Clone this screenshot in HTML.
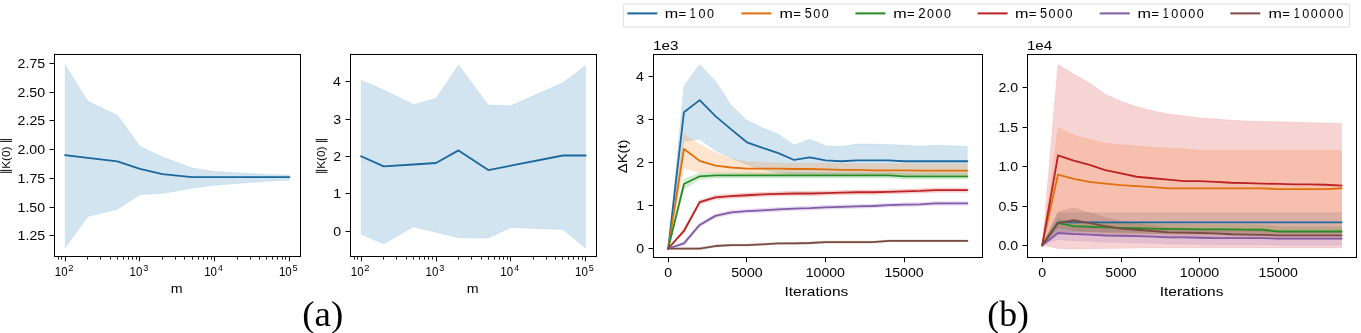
<!DOCTYPE html>
<html><head><meta charset="utf-8"><title>figure</title>
<style>html,body{margin:0;padding:0;background:#fff;width:1361px;height:333px;overflow:hidden}svg{display:block;will-change:transform}text{fill:#000}</style>
</head><body>
<svg width="1361" height="333" viewBox="0 0 1361 333"><path d="M65.25,65.16 L87.73,101.36 L117.44,115.28 L139.92,146.34 L162.4,156.96 L192.11,168.03 L214.59,171.57 L266.78,174.42 L289.26,174.99 L289.26,180.36 L266.78,181.27 L214.59,185.27 L192.11,188.35 L162.4,193.6 L139.92,194.52 L117.44,209.25 L87.73,216.44 L65.25,247.84Z" fill="#1f77b4" fill-opacity="0.2" stroke="#1f77b4" stroke-opacity="0.1" stroke-width="1"/>
<polyline points="65.25,155.24 87.73,157.87 117.44,161.41 139.92,168.83 162.4,174.2 192.11,177.16 214.59,177.16 266.78,177.16 289.26,177.16" fill="none" stroke="#1b689e" stroke-width="1.8" stroke-linejoin="round" stroke-linecap="square"/>
<rect x="54.5" y="54.5" width="246" height="202" fill="none" stroke="#000" stroke-width="1"/>
<line x1="49.5" y1="63.5" x2="54.5" y2="63.5" stroke="#000" stroke-width="1"/>
<text x="17.61" y="68.25" font-size="12.9" font-family='"Liberation Sans", sans-serif' textLength="27.49" lengthAdjust="spacingAndGlyphs">2.75</text>
<line x1="49.5" y1="92.5" x2="54.5" y2="92.5" stroke="#000" stroke-width="1"/>
<text x="17.56" y="97.25" font-size="12.9" font-family='"Liberation Sans", sans-serif' textLength="27.49" lengthAdjust="spacingAndGlyphs">2.50</text>
<line x1="49.5" y1="120.5" x2="54.5" y2="120.5" stroke="#000" stroke-width="1"/>
<text x="17.61" y="125.25" font-size="12.9" font-family='"Liberation Sans", sans-serif' textLength="27.49" lengthAdjust="spacingAndGlyphs">2.25</text>
<line x1="49.5" y1="149.5" x2="54.5" y2="149.5" stroke="#000" stroke-width="1"/>
<text x="17.56" y="154.25" font-size="12.9" font-family='"Liberation Sans", sans-serif' textLength="27.49" lengthAdjust="spacingAndGlyphs">2.00</text>
<line x1="49.5" y1="178.5" x2="54.5" y2="178.5" stroke="#000" stroke-width="1"/>
<text x="17.61" y="183.25" font-size="12.9" font-family='"Liberation Sans", sans-serif' textLength="27.49" lengthAdjust="spacingAndGlyphs">1.75</text>
<line x1="49.5" y1="207.5" x2="54.5" y2="207.5" stroke="#000" stroke-width="1"/>
<text x="17.56" y="212.25" font-size="12.9" font-family='"Liberation Sans", sans-serif' textLength="27.49" lengthAdjust="spacingAndGlyphs">1.50</text>
<line x1="49.5" y1="235.5" x2="54.5" y2="235.5" stroke="#000" stroke-width="1"/>
<text x="17.61" y="240.25" font-size="12.9" font-family='"Liberation Sans", sans-serif' textLength="27.49" lengthAdjust="spacingAndGlyphs">1.25</text>
<line x1="65.5" y1="256.5" x2="65.5" y2="261.3" stroke="#000" stroke-width="1"/>
<text x="54.87" y="275.88" font-size="12.29" font-family='"Liberation Sans", sans-serif' textLength="12.83" lengthAdjust="spacingAndGlyphs">10</text>
<text x="68.38" y="271.3" font-size="8.31" font-family='"Liberation Sans", sans-serif' textLength="5.24" lengthAdjust="spacingAndGlyphs">2</text>
<line x1="139.5" y1="256.5" x2="139.5" y2="261.3" stroke="#000" stroke-width="1"/>
<text x="129.54" y="275.88" font-size="12.29" font-family='"Liberation Sans", sans-serif' textLength="12.83" lengthAdjust="spacingAndGlyphs">10</text>
<text x="143.18" y="271.22" font-size="8.19" font-family='"Liberation Sans", sans-serif' textLength="5.05" lengthAdjust="spacingAndGlyphs">3</text>
<line x1="214.5" y1="256.5" x2="214.5" y2="261.3" stroke="#000" stroke-width="1"/>
<text x="204.21" y="275.88" font-size="12.29" font-family='"Liberation Sans", sans-serif' textLength="12.83" lengthAdjust="spacingAndGlyphs">10</text>
<text x="217.99" y="271.3" font-size="8.43" font-family='"Liberation Sans", sans-serif' textLength="4.74" lengthAdjust="spacingAndGlyphs">4</text>
<line x1="289.5" y1="256.5" x2="289.5" y2="261.3" stroke="#000" stroke-width="1"/>
<text x="278.88" y="275.88" font-size="12.29" font-family='"Liberation Sans", sans-serif' textLength="12.83" lengthAdjust="spacingAndGlyphs">10</text>
<text x="292.5" y="271.22" font-size="8.31" font-family='"Liberation Sans", sans-serif' textLength="5.05" lengthAdjust="spacingAndGlyphs">5</text>
<line x1="58.5" y1="256.5" x2="58.5" y2="259.7" stroke="#000" stroke-width="0.85"/>
<line x1="61.5" y1="256.5" x2="61.5" y2="259.7" stroke="#000" stroke-width="0.85"/>
<line x1="87.5" y1="256.5" x2="87.5" y2="259.7" stroke="#000" stroke-width="0.85"/>
<line x1="100.5" y1="256.5" x2="100.5" y2="259.7" stroke="#000" stroke-width="0.85"/>
<line x1="110.5" y1="256.5" x2="110.5" y2="259.7" stroke="#000" stroke-width="0.85"/>
<line x1="117.5" y1="256.5" x2="117.5" y2="259.7" stroke="#000" stroke-width="0.85"/>
<line x1="123.5" y1="256.5" x2="123.5" y2="259.7" stroke="#000" stroke-width="0.85"/>
<line x1="128.5" y1="256.5" x2="128.5" y2="259.7" stroke="#000" stroke-width="0.85"/>
<line x1="132.5" y1="256.5" x2="132.5" y2="259.7" stroke="#000" stroke-width="0.85"/>
<line x1="136.5" y1="256.5" x2="136.5" y2="259.7" stroke="#000" stroke-width="0.85"/>
<line x1="162.5" y1="256.5" x2="162.5" y2="259.7" stroke="#000" stroke-width="0.85"/>
<line x1="175.5" y1="256.5" x2="175.5" y2="259.7" stroke="#000" stroke-width="0.85"/>
<line x1="184.5" y1="256.5" x2="184.5" y2="259.7" stroke="#000" stroke-width="0.85"/>
<line x1="192.5" y1="256.5" x2="192.5" y2="259.7" stroke="#000" stroke-width="0.85"/>
<line x1="198.5" y1="256.5" x2="198.5" y2="259.7" stroke="#000" stroke-width="0.85"/>
<line x1="203.5" y1="256.5" x2="203.5" y2="259.7" stroke="#000" stroke-width="0.85"/>
<line x1="207.5" y1="256.5" x2="207.5" y2="259.7" stroke="#000" stroke-width="0.85"/>
<line x1="211.5" y1="256.5" x2="211.5" y2="259.7" stroke="#000" stroke-width="0.85"/>
<line x1="237.5" y1="256.5" x2="237.5" y2="259.7" stroke="#000" stroke-width="0.85"/>
<line x1="250.5" y1="256.5" x2="250.5" y2="259.7" stroke="#000" stroke-width="0.85"/>
<line x1="259.5" y1="256.5" x2="259.5" y2="259.7" stroke="#000" stroke-width="0.85"/>
<line x1="266.5" y1="256.5" x2="266.5" y2="259.7" stroke="#000" stroke-width="0.85"/>
<line x1="272.5" y1="256.5" x2="272.5" y2="259.7" stroke="#000" stroke-width="0.85"/>
<line x1="277.5" y1="256.5" x2="277.5" y2="259.7" stroke="#000" stroke-width="0.85"/>
<line x1="282.5" y1="256.5" x2="282.5" y2="259.7" stroke="#000" stroke-width="0.85"/>
<line x1="285.5" y1="256.5" x2="285.5" y2="259.7" stroke="#000" stroke-width="0.85"/>
<text x="170.66" y="292.8" font-size="13.01" font-family='"Liberation Sans", sans-serif' textLength="11.88" lengthAdjust="spacingAndGlyphs">m</text>
<line x1="0.2" y1="139.6" x2="12" y2="139.6" stroke="#000" stroke-width="0.95"/>
<line x1="0.2" y1="141.4" x2="12" y2="141.4" stroke="#000" stroke-width="0.95"/>
<line x1="0.2" y1="170.4" x2="12" y2="170.4" stroke="#000" stroke-width="0.95"/>
<line x1="0.2" y1="172.3" x2="12" y2="172.3" stroke="#000" stroke-width="0.95"/>
<text x="0" y="0" font-size="10.84" font-family='"Liberation Sans", sans-serif' textLength="22.3" lengthAdjust="spacingAndGlyphs" transform="translate(9.66,168.77) rotate(-90)">K(0)</text>
<path d="M361.25,80.13 L383.75,89.98 L413.5,104.39 L436,98.4 L458.5,65.12 L488.25,104.95 L510.75,105.81 L563,82.86 L585.5,65.42 L585.5,247.97 L563,229.4 L510.75,227.49 L488.25,238.09 L458.5,237.72 L436,232.25 L413.5,226.78 L383.75,243.86 L361.25,234.2Z" fill="#1f77b4" fill-opacity="0.2" stroke="#1f77b4" stroke-opacity="0.1" stroke-width="1"/>
<polyline points="361.25,156.25 383.75,166.35 413.5,164.48 436,162.98 458.5,150.4 488.25,170.1 510.75,165.72 563,155.5 585.5,155.5" fill="none" stroke="#1b689e" stroke-width="1.8" stroke-linejoin="round" stroke-linecap="square"/>
<rect x="350.5" y="54.5" width="246" height="202" fill="none" stroke="#000" stroke-width="1"/>
<line x1="345.5" y1="81.5" x2="350.5" y2="81.5" stroke="#000" stroke-width="1"/>
<text x="333.06" y="86.25" font-size="12.9" font-family='"Liberation Sans", sans-serif' textLength="7.86" lengthAdjust="spacingAndGlyphs">4</text>
<line x1="345.5" y1="119.5" x2="350.5" y2="119.5" stroke="#000" stroke-width="1"/>
<text x="333.27" y="124.25" font-size="12.9" font-family='"Liberation Sans", sans-serif' textLength="7.86" lengthAdjust="spacingAndGlyphs">3</text>
<line x1="345.5" y1="156.5" x2="350.5" y2="156.5" stroke="#000" stroke-width="1"/>
<text x="333.35" y="161.25" font-size="12.9" font-family='"Liberation Sans", sans-serif' textLength="7.86" lengthAdjust="spacingAndGlyphs">2</text>
<line x1="345.5" y1="193.5" x2="350.5" y2="193.5" stroke="#000" stroke-width="1"/>
<text x="333.34" y="198.25" font-size="12.9" font-family='"Liberation Sans", sans-serif' textLength="7.86" lengthAdjust="spacingAndGlyphs">1</text>
<line x1="345.5" y1="231.5" x2="350.5" y2="231.5" stroke="#000" stroke-width="1"/>
<text x="333.2" y="236.25" font-size="12.9" font-family='"Liberation Sans", sans-serif' textLength="7.86" lengthAdjust="spacingAndGlyphs">0</text>
<line x1="361.5" y1="256.5" x2="361.5" y2="261.3" stroke="#000" stroke-width="1"/>
<text x="350.87" y="275.88" font-size="12.29" font-family='"Liberation Sans", sans-serif' textLength="12.83" lengthAdjust="spacingAndGlyphs">10</text>
<text x="364.38" y="271.3" font-size="8.31" font-family='"Liberation Sans", sans-serif' textLength="5.24" lengthAdjust="spacingAndGlyphs">2</text>
<line x1="436.5" y1="256.5" x2="436.5" y2="261.3" stroke="#000" stroke-width="1"/>
<text x="425.62" y="275.88" font-size="12.29" font-family='"Liberation Sans", sans-serif' textLength="12.83" lengthAdjust="spacingAndGlyphs">10</text>
<text x="439.26" y="271.22" font-size="8.19" font-family='"Liberation Sans", sans-serif' textLength="5.05" lengthAdjust="spacingAndGlyphs">3</text>
<line x1="510.5" y1="256.5" x2="510.5" y2="261.3" stroke="#000" stroke-width="1"/>
<text x="500.37" y="275.88" font-size="12.29" font-family='"Liberation Sans", sans-serif' textLength="12.83" lengthAdjust="spacingAndGlyphs">10</text>
<text x="514.15" y="271.3" font-size="8.43" font-family='"Liberation Sans", sans-serif' textLength="4.74" lengthAdjust="spacingAndGlyphs">4</text>
<line x1="585.5" y1="256.5" x2="585.5" y2="261.3" stroke="#000" stroke-width="1"/>
<text x="575.12" y="275.88" font-size="12.29" font-family='"Liberation Sans", sans-serif' textLength="12.83" lengthAdjust="spacingAndGlyphs">10</text>
<text x="588.74" y="271.22" font-size="8.31" font-family='"Liberation Sans", sans-serif' textLength="5.05" lengthAdjust="spacingAndGlyphs">5</text>
<line x1="354.5" y1="256.5" x2="354.5" y2="259.7" stroke="#000" stroke-width="0.85"/>
<line x1="357.5" y1="256.5" x2="357.5" y2="259.7" stroke="#000" stroke-width="0.85"/>
<line x1="383.5" y1="256.5" x2="383.5" y2="259.7" stroke="#000" stroke-width="0.85"/>
<line x1="396.5" y1="256.5" x2="396.5" y2="259.7" stroke="#000" stroke-width="0.85"/>
<line x1="406.5" y1="256.5" x2="406.5" y2="259.7" stroke="#000" stroke-width="0.85"/>
<line x1="413.5" y1="256.5" x2="413.5" y2="259.7" stroke="#000" stroke-width="0.85"/>
<line x1="419.5" y1="256.5" x2="419.5" y2="259.7" stroke="#000" stroke-width="0.85"/>
<line x1="424.5" y1="256.5" x2="424.5" y2="259.7" stroke="#000" stroke-width="0.85"/>
<line x1="428.5" y1="256.5" x2="428.5" y2="259.7" stroke="#000" stroke-width="0.85"/>
<line x1="432.5" y1="256.5" x2="432.5" y2="259.7" stroke="#000" stroke-width="0.85"/>
<line x1="458.5" y1="256.5" x2="458.5" y2="259.7" stroke="#000" stroke-width="0.85"/>
<line x1="471.5" y1="256.5" x2="471.5" y2="259.7" stroke="#000" stroke-width="0.85"/>
<line x1="481.5" y1="256.5" x2="481.5" y2="259.7" stroke="#000" stroke-width="0.85"/>
<line x1="488.5" y1="256.5" x2="488.5" y2="259.7" stroke="#000" stroke-width="0.85"/>
<line x1="494.5" y1="256.5" x2="494.5" y2="259.7" stroke="#000" stroke-width="0.85"/>
<line x1="499.5" y1="256.5" x2="499.5" y2="259.7" stroke="#000" stroke-width="0.85"/>
<line x1="503.5" y1="256.5" x2="503.5" y2="259.7" stroke="#000" stroke-width="0.85"/>
<line x1="507.5" y1="256.5" x2="507.5" y2="259.7" stroke="#000" stroke-width="0.85"/>
<line x1="533.5" y1="256.5" x2="533.5" y2="259.7" stroke="#000" stroke-width="0.85"/>
<line x1="546.5" y1="256.5" x2="546.5" y2="259.7" stroke="#000" stroke-width="0.85"/>
<line x1="555.5" y1="256.5" x2="555.5" y2="259.7" stroke="#000" stroke-width="0.85"/>
<line x1="562.5" y1="256.5" x2="562.5" y2="259.7" stroke="#000" stroke-width="0.85"/>
<line x1="568.5" y1="256.5" x2="568.5" y2="259.7" stroke="#000" stroke-width="0.85"/>
<line x1="573.5" y1="256.5" x2="573.5" y2="259.7" stroke="#000" stroke-width="0.85"/>
<line x1="578.5" y1="256.5" x2="578.5" y2="259.7" stroke="#000" stroke-width="0.85"/>
<line x1="582.5" y1="256.5" x2="582.5" y2="259.7" stroke="#000" stroke-width="0.85"/>
<text x="466.66" y="292.8" font-size="13.01" font-family='"Liberation Sans", sans-serif' textLength="11.88" lengthAdjust="spacingAndGlyphs">m</text>
<line x1="315.7" y1="139.6" x2="327.5" y2="139.6" stroke="#000" stroke-width="0.95"/>
<line x1="315.7" y1="141.4" x2="327.5" y2="141.4" stroke="#000" stroke-width="0.95"/>
<line x1="315.7" y1="170.4" x2="327.5" y2="170.4" stroke="#000" stroke-width="0.95"/>
<line x1="315.7" y1="172.3" x2="327.5" y2="172.3" stroke="#000" stroke-width="0.95"/>
<text x="0" y="0" font-size="10.84" font-family='"Liberation Sans", sans-serif' textLength="22.3" lengthAdjust="spacingAndGlyphs" transform="translate(325.16,168.77) rotate(-90)">K(0)</text>
<clipPath id="c3"><rect x="653.5" y="54.5" width="329" height="203"/></clipPath>
<path d="M668.2,248.6 L683.94,85.95 L699.68,64.43 L715.42,81.21 L731.16,105.31 L746.9,120.37 L762.64,128.12 L778.38,134.14 L794.12,144.9 L809.86,139.3 L825.6,145.76 L841.34,146.62 L857.08,144.04 L872.82,144.04 L888.56,144.47 L904.3,145.33 L920.04,146.19 L935.78,145.33 L951.52,145.76 L967.26,146.62 L967.26,174.16 L951.52,174.16 L935.78,174.16 L920.04,174.16 L904.3,174.16 L888.56,174.16 L872.82,174.16 L857.08,174.16 L841.34,174.16 L825.6,173.73 L809.86,173.73 L794.12,173.73 L778.38,172.87 L762.64,169.42 L746.9,164.69 L731.16,158.24 L715.42,150.49 L699.68,139.3 L683.94,141.02 L668.2,248.6Z" fill="#1f77b4" fill-opacity="0.2" stroke="#1f77b4" stroke-opacity="0.1" stroke-width="1" clip-path="url(#c3)"/>
<path d="M668.2,248.6 L683.94,134.14 L699.68,144.47 L715.42,152.64 L731.16,158.67 L746.9,161.68 L762.64,162.54 L778.38,162.97 L794.12,163.4 L809.86,163.4 L825.6,163.4 L841.34,163.83 L857.08,163.83 L872.82,163.83 L888.56,163.83 L904.3,163.83 L920.04,163.83 L935.78,163.83 L951.52,163.83 L967.26,163.83 L967.26,175.02 L951.52,175.02 L935.78,175.02 L920.04,175.02 L904.3,175.02 L888.56,175.02 L872.82,175.02 L857.08,175.02 L841.34,175.02 L825.6,174.59 L809.86,174.59 L794.12,174.59 L778.38,174.16 L762.64,174.16 L746.9,173.73 L731.16,173.3 L715.42,172.87 L699.68,172.44 L683.94,167.7 L668.2,248.6Z" fill="#ff7f0e" fill-opacity="0.2" stroke="#ff7f0e" stroke-opacity="0.1" stroke-width="1" clip-path="url(#c3)"/>
<path d="M668.2,248.6 L683.94,178.89 L699.68,173.3 L715.42,172.87 L731.16,172.87 L746.9,172.87 L762.64,172.87 L778.38,172.87 L794.12,172.87 L809.86,172.87 L825.6,172.87 L841.34,172.87 L857.08,172.87 L872.82,172.87 L888.56,172.87 L904.3,173.73 L920.04,173.73 L935.78,173.73 L951.52,173.73 L967.26,173.73 L967.26,178.89 L951.52,178.89 L935.78,178.89 L920.04,178.89 L904.3,178.89 L888.56,178.03 L872.82,178.03 L857.08,178.03 L841.34,178.03 L825.6,178.03 L809.86,178.03 L794.12,178.03 L778.38,178.03 L762.64,178.03 L746.9,178.03 L731.16,178.03 L715.42,178.03 L699.68,179.32 L683.94,189.22 L668.2,248.6Z" fill="#2ca02c" fill-opacity="0.2" stroke="#2ca02c" stroke-opacity="0.1" stroke-width="1" clip-path="url(#c3)"/>
<path d="M668.2,248.6 L683.94,228.81 L699.68,199.98 L715.42,195.24 L731.16,193.95 L746.9,193.09 L762.64,192.23 L778.38,191.8 L794.12,191.37 L809.86,191.37 L825.6,190.94 L841.34,190.51 L857.08,190.08 L872.82,190.08 L888.56,189.65 L904.3,189.22 L920.04,188.79 L935.78,187.93 L951.52,187.93 L967.26,187.93 L967.26,192.23 L951.52,192.23 L935.78,192.23 L920.04,193.09 L904.3,193.52 L888.56,193.95 L872.82,194.38 L857.08,194.38 L841.34,194.81 L825.6,195.24 L809.86,195.67 L794.12,195.67 L778.38,196.1 L762.64,196.53 L746.9,197.39 L731.16,198.25 L715.42,199.55 L699.68,204.28 L683.94,233.11 L668.2,248.6Z" fill="#d62728" fill-opacity="0.2" stroke="#d62728" stroke-opacity="0.1" stroke-width="1" clip-path="url(#c3)"/>
<path d="M668.2,248.6 L683.94,241.5 L699.68,223 L715.42,213.96 L731.16,210.52 L746.9,209.23 L762.64,208.37 L778.38,207.51 L794.12,206.65 L809.86,206.22 L825.6,205.35 L841.34,204.92 L857.08,204.49 L872.82,204.06 L888.56,203.2 L904.3,202.77 L920.04,202.34 L935.78,201.48 L951.52,201.48 L967.26,201.48 L967.26,205.35 L951.52,205.35 L935.78,205.35 L920.04,206.22 L904.3,206.65 L888.56,207.08 L872.82,207.94 L857.08,208.37 L841.34,208.8 L825.6,209.23 L809.86,210.09 L794.12,210.52 L778.38,211.38 L762.64,212.24 L746.9,213.1 L731.16,214.39 L715.42,217.83 L699.68,226.87 L683.94,245.37 L668.2,248.6Z" fill="#9467bd" fill-opacity="0.2" stroke="#9467bd" stroke-opacity="0.1" stroke-width="1" clip-path="url(#c3)"/>
<path d="M668.2,248.6 L683.94,247.52 L699.68,247.52 L715.42,244.94 L731.16,244.08 L746.9,244.08 L762.64,243.22 L778.38,242.36 L794.12,242.36 L809.86,241.93 L825.6,241.07 L841.34,241.07 L857.08,241.07 L872.82,241.07 L888.56,239.78 L904.3,239.78 L920.04,239.78 L935.78,239.78 L951.52,239.78 L967.26,239.78 L967.26,241.93 L951.52,241.93 L935.78,241.93 L920.04,241.93 L904.3,241.93 L888.56,241.93 L872.82,243.22 L857.08,243.22 L841.34,243.22 L825.6,243.22 L809.86,244.08 L794.12,244.51 L778.38,244.51 L762.64,245.37 L746.9,246.23 L731.16,246.23 L715.42,247.09 L699.68,249.68 L683.94,249.68 L668.2,248.6Z" fill="#8c564b" fill-opacity="0.2" stroke="#8c564b" stroke-opacity="0.1" stroke-width="1" clip-path="url(#c3)"/>
<polyline points="668.2,248.6 683.94,112.19 699.68,100.15 715.42,116.07 731.16,129.41 746.9,142.32 762.64,147.91 778.38,153.07 794.12,159.96 809.86,157.38 825.6,160.39 841.34,161.25 857.08,160.39 872.82,160.39 888.56,160.39 904.3,161.25 920.04,161.25 935.78,161.25 951.52,161.25 967.26,161.25" fill="none" stroke="#1b689e" stroke-width="1.8" stroke-linejoin="round" stroke-linecap="square" clip-path="url(#c3)"/>
<polyline points="668.2,248.6 683.94,148.99 699.68,160.82 715.42,165.55 731.16,167.49 746.9,168.56 762.64,168.56 778.38,168.56 794.12,168.99 809.86,168.99 825.6,169.42 841.34,169.86 857.08,169.86 872.82,170.29 888.56,170.29 904.3,170.29 920.04,170.72 935.78,170.72 951.52,170.72 967.26,170.72" fill="none" stroke="#e06f0c" stroke-width="1.8" stroke-linejoin="round" stroke-linecap="square" clip-path="url(#c3)"/>
<polyline points="668.2,248.6 683.94,184.06 699.68,176.31 715.42,175.45 731.16,175.45 746.9,175.45 762.64,175.45 778.38,175.45 794.12,175.45 809.86,175.45 825.6,175.45 841.34,175.45 857.08,175.45 872.82,175.45 888.56,175.45 904.3,176.31 920.04,176.31 935.78,176.31 951.52,176.31 967.26,176.31" fill="none" stroke="#268c26" stroke-width="1.8" stroke-linejoin="round" stroke-linecap="square" clip-path="url(#c3)"/>
<polyline points="668.2,248.6 683.94,230.96 699.68,202.13 715.42,197.39 731.16,196.1 746.9,195.24 762.64,194.38 778.38,193.95 794.12,193.52 809.86,193.52 825.6,193.09 841.34,192.66 857.08,192.23 872.82,192.23 888.56,191.8 904.3,191.37 920.04,190.94 935.78,190.08 951.52,190.08 967.26,190.08" fill="none" stroke="#bc2223" stroke-width="1.8" stroke-linejoin="round" stroke-linecap="square" clip-path="url(#c3)"/>
<polyline points="668.2,248.6 683.94,243.44 699.68,224.93 715.42,215.9 731.16,212.45 746.9,211.16 762.64,210.3 778.38,209.44 794.12,208.58 809.86,208.15 825.6,207.29 841.34,206.86 857.08,206.43 872.82,206 888.56,205.14 904.3,204.71 920.04,204.28 935.78,203.42 951.52,203.42 967.26,203.42" fill="none" stroke="#825aa6" stroke-width="1.8" stroke-linejoin="round" stroke-linecap="square" clip-path="url(#c3)"/>
<polyline points="668.2,248.6 683.94,248.6 699.68,248.6 715.42,246.02 731.16,245.16 746.9,245.16 762.64,244.3 778.38,243.44 794.12,243.44 809.86,243.01 825.6,242.15 841.34,242.15 857.08,242.15 872.82,242.15 888.56,240.85 904.3,240.85 920.04,240.85 935.78,240.85 951.52,240.85 967.26,240.85" fill="none" stroke="#7b4b42" stroke-width="1.8" stroke-linejoin="round" stroke-linecap="square" clip-path="url(#c3)"/>
<rect x="653.5" y="54.5" width="329" height="203" fill="none" stroke="#000" stroke-width="1"/>
<line x1="648.5" y1="248.5" x2="653.5" y2="248.5" stroke="#000" stroke-width="1"/>
<text x="636.2" y="253.25" font-size="12.9" font-family='"Liberation Sans", sans-serif' textLength="7.86" lengthAdjust="spacingAndGlyphs">0</text>
<line x1="648.5" y1="205.5" x2="653.5" y2="205.5" stroke="#000" stroke-width="1"/>
<text x="636.34" y="210.25" font-size="12.9" font-family='"Liberation Sans", sans-serif' textLength="7.86" lengthAdjust="spacingAndGlyphs">1</text>
<line x1="648.5" y1="162.5" x2="653.5" y2="162.5" stroke="#000" stroke-width="1"/>
<text x="636.35" y="167.25" font-size="12.9" font-family='"Liberation Sans", sans-serif' textLength="7.86" lengthAdjust="spacingAndGlyphs">2</text>
<line x1="648.5" y1="119.5" x2="653.5" y2="119.5" stroke="#000" stroke-width="1"/>
<text x="636.27" y="124.25" font-size="12.9" font-family='"Liberation Sans", sans-serif' textLength="7.86" lengthAdjust="spacingAndGlyphs">3</text>
<line x1="648.5" y1="76.5" x2="653.5" y2="76.5" stroke="#000" stroke-width="1"/>
<text x="636.06" y="81.25" font-size="12.9" font-family='"Liberation Sans", sans-serif' textLength="7.86" lengthAdjust="spacingAndGlyphs">4</text>
<line x1="668.5" y1="257.5" x2="668.5" y2="262.3" stroke="#000" stroke-width="1"/>
<text x="664.27" y="276.7" font-size="12.9" font-family='"Liberation Sans", sans-serif' textLength="7.86" lengthAdjust="spacingAndGlyphs">0</text>
<line x1="746.5" y1="257.5" x2="746.5" y2="262.3" stroke="#000" stroke-width="1"/>
<text x="731.19" y="276.7" font-size="12.9" font-family='"Liberation Sans", sans-serif' textLength="31.42" lengthAdjust="spacingAndGlyphs">5000</text>
<line x1="825.5" y1="257.5" x2="825.5" y2="262.3" stroke="#000" stroke-width="1"/>
<text x="805.7" y="276.7" font-size="12.9" font-family='"Liberation Sans", sans-serif' textLength="39.28" lengthAdjust="spacingAndGlyphs">10000</text>
<line x1="904.5" y1="257.5" x2="904.5" y2="262.3" stroke="#000" stroke-width="1"/>
<text x="884.4" y="276.7" font-size="12.9" font-family='"Liberation Sans", sans-serif' textLength="39.28" lengthAdjust="spacingAndGlyphs">15000</text>
<text x="784.47" y="295.56" font-size="13.61" font-family='"Liberation Sans", sans-serif' textLength="63.79" lengthAdjust="spacingAndGlyphs">Iterations</text>
<text x="652.94" y="49.77" font-size="13.14" font-family='"Liberation Sans", sans-serif' textLength="25.44" lengthAdjust="spacingAndGlyphs">1e3</text>
<text x="0" y="0" font-size="13.63" font-family='"Liberation Sans", sans-serif' textLength="33.76" lengthAdjust="spacingAndGlyphs" transform="translate(627.18,173.24) rotate(-90)">ΔK(t)</text>
<clipPath id="c4"><rect x="1027.5" y="54.5" width="329" height="203"/></clipPath>
<path d="M1042.25,245.25 L1058,212.82 L1073.75,212.82 L1089.5,212.82 L1105.25,212.82 L1121,212.82 L1136.75,212.82 L1152.5,212.82 L1168.25,212.82 L1184,212.82 L1199.75,212.82 L1215.5,212.82 L1231.25,212.82 L1247,212.82 L1262.75,212.82 L1278.5,212.82 L1294.25,212.82 L1310,212.82 L1325.75,212.82 L1341.5,212.82 L1341.5,231.8 L1325.75,231.8 L1310,231.8 L1294.25,231.8 L1278.5,231.8 L1262.75,231.8 L1247,231.8 L1231.25,231.8 L1215.5,231.8 L1199.75,231.8 L1184,231.8 L1168.25,231.8 L1152.5,231.8 L1136.75,231.8 L1121,231.8 L1105.25,231.8 L1089.5,231.8 L1073.75,231.8 L1058,231.8 L1042.25,245.25Z" fill="#1f77b4" fill-opacity="0.2" stroke="#1f77b4" stroke-opacity="0.1" stroke-width="1" clip-path="url(#c4)"/>
<path d="M1042.25,245.25 L1058,127.39 L1073.75,135.3 L1089.5,139.26 L1105.25,143.21 L1121,144.79 L1136.75,145.98 L1152.5,147.17 L1168.25,147.96 L1184,148.75 L1199.75,150.33 L1215.5,150.33 L1231.25,150.33 L1247,150.33 L1262.75,150.33 L1278.5,150.33 L1294.25,150.33 L1310,150.33 L1325.75,150.33 L1341.5,150.73 L1341.5,233.38 L1325.75,233.38 L1310,233.38 L1294.25,233.38 L1278.5,233.38 L1262.75,233.38 L1247,233.38 L1231.25,233.38 L1215.5,233.38 L1199.75,233.38 L1184,233.38 L1168.25,233.38 L1152.5,233.38 L1136.75,233.38 L1121,233.38 L1105.25,232.59 L1089.5,231.8 L1073.75,230.22 L1058,227.85 L1042.25,245.25Z" fill="#ff7f0e" fill-opacity="0.2" stroke="#ff7f0e" stroke-opacity="0.1" stroke-width="1" clip-path="url(#c4)"/>
<path d="M1042.25,245.25 L1058,218.36 L1073.75,221.28 L1089.5,221.99 L1105.25,222.71 L1121,223.1 L1136.75,223.5 L1152.5,223.89 L1168.25,224.29 L1184,224.45 L1199.75,224.68 L1215.5,224.68 L1231.25,224.68 L1247,224.84 L1262.75,225 L1278.5,226.74 L1294.25,226.74 L1310,226.74 L1325.75,226.74 L1341.5,226.74 L1341.5,236.23 L1325.75,236.23 L1310,236.23 L1294.25,236.23 L1278.5,236.23 L1262.75,234.49 L1247,234.33 L1231.25,234.18 L1215.5,234.18 L1199.75,234.18 L1184,233.94 L1168.25,233.78 L1152.5,233.38 L1136.75,232.99 L1121,232.59 L1105.25,232.2 L1089.5,231.49 L1073.75,230.77 L1058,227.85 L1042.25,245.25Z" fill="#2ca02c" fill-opacity="0.2" stroke="#2ca02c" stroke-opacity="0.1" stroke-width="1" clip-path="url(#c4)"/>
<path d="M1042.25,245.25 L1058,64.51 L1073.75,74 L1089.5,83.1 L1105.25,94.17 L1121,101.29 L1136.75,106.83 L1152.5,110.78 L1168.25,113.94 L1184,115.92 L1199.75,117.9 L1215.5,119.09 L1231.25,120.27 L1247,121.06 L1262.75,121.46 L1278.5,121.85 L1294.25,122.25 L1310,122.65 L1325.75,123.04 L1341.5,123.44 L1341.5,248.02 L1325.75,248.02 L1310,248.02 L1294.25,248.02 L1278.5,248.02 L1262.75,248.02 L1247,248.02 L1231.25,248.02 L1215.5,248.02 L1199.75,248.02 L1184,248.02 L1168.25,248.02 L1152.5,248.02 L1136.75,248.1 L1121,248.26 L1105.25,248.41 L1089.5,248.81 L1073.75,248.97 L1058,248.41 L1042.25,245.25Z" fill="#d62728" fill-opacity="0.2" stroke="#d62728" stroke-opacity="0.1" stroke-width="1" clip-path="url(#c4)"/>
<path d="M1042.25,245.25 L1058,226.27 L1073.75,227.29 L1089.5,227.85 L1105.25,228.8 L1121,229.03 L1136.75,229.43 L1152.5,229.83 L1168.25,230.62 L1184,230.62 L1199.75,231.01 L1215.5,231.41 L1231.25,231.41 L1247,231.41 L1262.75,231.41 L1278.5,231.8 L1294.25,231.8 L1310,231.8 L1325.75,231.8 L1341.5,231.8 L1341.5,245.25 L1325.75,245.25 L1310,245.25 L1294.25,245.25 L1278.5,245.25 L1262.75,244.85 L1247,244.85 L1231.25,244.85 L1215.5,244.85 L1199.75,244.46 L1184,244.06 L1168.25,244.06 L1152.5,243.27 L1136.75,242.88 L1121,242.48 L1105.25,242.24 L1089.5,241.29 L1073.75,240.74 L1058,239.71 L1042.25,245.25Z" fill="#9467bd" fill-opacity="0.2" stroke="#9467bd" stroke-opacity="0.1" stroke-width="1" clip-path="url(#c4)"/>
<path d="M1042.25,245.25 L1058,212.03 L1073.75,207.6 L1089.5,212.82 L1105.25,217.33 L1121,221.52 L1136.75,223.42 L1152.5,225.47 L1168.25,227.53 L1184,227.85 L1199.75,229.03 L1215.5,229.43 L1231.25,230.3 L1247,230.62 L1262.75,231.01 L1278.5,231.33 L1294.25,231.33 L1310,231.33 L1325.75,231.33 L1341.5,231.33 L1341.5,239.24 L1325.75,239.24 L1310,239.24 L1294.25,239.24 L1278.5,239.24 L1262.75,238.92 L1247,238.53 L1231.25,238.21 L1215.5,237.34 L1199.75,236.94 L1184,237.34 L1168.25,237.02 L1152.5,236.55 L1136.75,236.07 L1121,235.76 L1105.25,234.73 L1089.5,233.38 L1073.75,232.91 L1058,234.18 L1042.25,245.25Z" fill="#8c564b" fill-opacity="0.2" stroke="#8c564b" stroke-opacity="0.1" stroke-width="1" clip-path="url(#c4)"/>
<polyline points="1042.25,245.25 1058,222.31 1073.75,222.31 1089.5,222.31 1105.25,222.31 1121,222.31 1136.75,222.31 1152.5,222.31 1168.25,222.31 1184,222.31 1199.75,222.31 1215.5,222.31 1231.25,222.31 1247,222.31 1262.75,222.31 1278.5,222.31 1294.25,222.31 1310,222.31 1325.75,222.31 1341.5,222.31" fill="none" stroke="#1b689e" stroke-width="1.8" stroke-linejoin="round" stroke-linecap="square" clip-path="url(#c4)"/>
<polyline points="1042.25,245.25 1058,174.53 1073.75,178.81 1089.5,181.97 1105.25,183.55 1121,185.13 1136.75,186.08 1152.5,187.03 1168.25,188.3 1184,188.3 1199.75,188.3 1215.5,188.3 1231.25,188.3 1247,188.3 1262.75,188.3 1278.5,189.09 1294.25,189.09 1310,189.09 1325.75,189.09 1341.5,188.3" fill="none" stroke="#e06f0c" stroke-width="1.8" stroke-linejoin="round" stroke-linecap="square" clip-path="url(#c4)"/>
<polyline points="1042.25,245.25 1058,223.1 1073.75,226.03 1089.5,226.74 1105.25,227.45 1121,227.85 1136.75,228.24 1152.5,228.64 1168.25,229.03 1184,229.19 1199.75,229.43 1215.5,229.43 1231.25,229.43 1247,229.59 1262.75,229.75 1278.5,231.49 1294.25,231.49 1310,231.49 1325.75,231.49 1341.5,231.49" fill="none" stroke="#268c26" stroke-width="1.8" stroke-linejoin="round" stroke-linecap="square" clip-path="url(#c4)"/>
<polyline points="1042.25,245.25 1058,155.47 1073.75,160.61 1089.5,164.96 1105.25,170.11 1121,173.27 1136.75,176.75 1152.5,178.25 1168.25,179.6 1184,181.18 1199.75,181.18 1215.5,181.97 1231.25,182.76 1247,183.16 1262.75,183.55 1278.5,183.95 1294.25,184.34 1310,184.34 1325.75,184.74 1341.5,185.53" fill="none" stroke="#bc2223" stroke-width="1.8" stroke-linejoin="round" stroke-linecap="square" clip-path="url(#c4)"/>
<polyline points="1042.25,245.25 1058,232.99 1073.75,234.02 1089.5,234.57 1105.25,235.52 1121,235.76 1136.75,236.15 1152.5,236.55 1168.25,237.34 1184,237.34 1199.75,237.74 1215.5,238.13 1231.25,238.13 1247,238.13 1262.75,238.13 1278.5,238.53 1294.25,238.53 1310,238.53 1325.75,238.53 1341.5,238.53" fill="none" stroke="#825aa6" stroke-width="1.8" stroke-linejoin="round" stroke-linecap="square" clip-path="url(#c4)"/>
<polyline points="1042.25,245.25 1058,223.1 1073.75,220.25 1089.5,223.1 1105.25,226.03 1121,228.64 1136.75,229.75 1152.5,231.01 1168.25,232.28 1184,232.59 1199.75,232.99 1215.5,233.38 1231.25,234.26 1247,234.57 1262.75,234.97 1278.5,235.28 1294.25,235.28 1310,235.28 1325.75,235.28 1341.5,235.28" fill="none" stroke="#7b4b42" stroke-width="1.8" stroke-linejoin="round" stroke-linecap="square" clip-path="url(#c4)"/>
<rect x="1027.5" y="54.5" width="329" height="203" fill="none" stroke="#000" stroke-width="1"/>
<line x1="1022.5" y1="245.5" x2="1027.5" y2="245.5" stroke="#000" stroke-width="1"/>
<text x="998.42" y="250.25" font-size="12.9" font-family='"Liberation Sans", sans-serif' textLength="19.64" lengthAdjust="spacingAndGlyphs">0.0</text>
<line x1="1022.5" y1="206.5" x2="1027.5" y2="206.5" stroke="#000" stroke-width="1"/>
<text x="998.46" y="211.25" font-size="12.9" font-family='"Liberation Sans", sans-serif' textLength="19.64" lengthAdjust="spacingAndGlyphs">0.5</text>
<line x1="1022.5" y1="166.5" x2="1027.5" y2="166.5" stroke="#000" stroke-width="1"/>
<text x="998.42" y="171.25" font-size="12.9" font-family='"Liberation Sans", sans-serif' textLength="19.64" lengthAdjust="spacingAndGlyphs">1.0</text>
<line x1="1022.5" y1="127.5" x2="1027.5" y2="127.5" stroke="#000" stroke-width="1"/>
<text x="998.46" y="132.25" font-size="12.9" font-family='"Liberation Sans", sans-serif' textLength="19.64" lengthAdjust="spacingAndGlyphs">1.5</text>
<line x1="1022.5" y1="87.5" x2="1027.5" y2="87.5" stroke="#000" stroke-width="1"/>
<text x="998.42" y="92.25" font-size="12.9" font-family='"Liberation Sans", sans-serif' textLength="19.64" lengthAdjust="spacingAndGlyphs">2.0</text>
<line x1="1042.5" y1="257.5" x2="1042.5" y2="262.3" stroke="#000" stroke-width="1"/>
<text x="1038.32" y="276.7" font-size="12.9" font-family='"Liberation Sans", sans-serif' textLength="7.86" lengthAdjust="spacingAndGlyphs">0</text>
<line x1="1121.5" y1="257.5" x2="1121.5" y2="262.3" stroke="#000" stroke-width="1"/>
<text x="1105.29" y="276.7" font-size="12.9" font-family='"Liberation Sans", sans-serif' textLength="31.42" lengthAdjust="spacingAndGlyphs">5000</text>
<line x1="1199.5" y1="257.5" x2="1199.5" y2="262.3" stroke="#000" stroke-width="1"/>
<text x="1179.85" y="276.7" font-size="12.9" font-family='"Liberation Sans", sans-serif' textLength="39.28" lengthAdjust="spacingAndGlyphs">10000</text>
<line x1="1278.5" y1="257.5" x2="1278.5" y2="262.3" stroke="#000" stroke-width="1"/>
<text x="1258.6" y="276.7" font-size="12.9" font-family='"Liberation Sans", sans-serif' textLength="39.28" lengthAdjust="spacingAndGlyphs">15000</text>
<text x="1159.67" y="295.56" font-size="13.61" font-family='"Liberation Sans", sans-serif' textLength="63.79" lengthAdjust="spacingAndGlyphs">Iterations</text>
<text x="1026.95" y="49.77" font-size="13.32" font-family='"Liberation Sans", sans-serif' textLength="25.19" lengthAdjust="spacingAndGlyphs">1e4</text>
<rect x="623.5" y="3.8" width="726" height="23.4" rx="2" ry="2" fill="#fff" fill-opacity="0.8" stroke="#e2e2e2" stroke-width="1.3"/>
<line x1="628.3" y1="13.4" x2="656.3" y2="13.4" stroke="#1b689e" stroke-width="2" stroke-linecap="square"/>
<text x="664.74" y="17.9" font-size="13.57" font-family='"Liberation Sans", sans-serif' textLength="13.43" lengthAdjust="spacingAndGlyphs">m</text>
<text x="678.45" y="17.54" font-size="13.35" font-family='"Liberation Sans", sans-serif' textLength="7.69" lengthAdjust="spacingAndGlyphs">=</text>
<text x="689.79" y="17.9" font-size="13.88" font-family='"Liberation Sans", sans-serif' textLength="5.94" lengthAdjust="spacingAndGlyphs">1</text>
<text x="698.41" y="17.86" font-size="13.63" font-family='"Liberation Sans", sans-serif' textLength="6.98" lengthAdjust="spacingAndGlyphs">0</text>
<text x="706.91" y="17.86" font-size="13.63" font-family='"Liberation Sans", sans-serif' textLength="6.98" lengthAdjust="spacingAndGlyphs">0</text>
<line x1="742.4" y1="13.4" x2="770.4" y2="13.4" stroke="#e06f0c" stroke-width="2" stroke-linecap="square"/>
<text x="779.54" y="17.9" font-size="13.57" font-family='"Liberation Sans", sans-serif' textLength="13.43" lengthAdjust="spacingAndGlyphs">m</text>
<text x="793.25" y="17.54" font-size="13.35" font-family='"Liberation Sans", sans-serif' textLength="7.69" lengthAdjust="spacingAndGlyphs">=</text>
<text x="804.69" y="17.86" font-size="13.83" font-family='"Liberation Sans", sans-serif' textLength="7.04" lengthAdjust="spacingAndGlyphs">5</text>
<text x="813.21" y="17.86" font-size="13.63" font-family='"Liberation Sans", sans-serif' textLength="6.98" lengthAdjust="spacingAndGlyphs">0</text>
<text x="821.71" y="17.86" font-size="13.63" font-family='"Liberation Sans", sans-serif' textLength="6.98" lengthAdjust="spacingAndGlyphs">0</text>
<line x1="856.4" y1="13.4" x2="884.4" y2="13.4" stroke="#268c26" stroke-width="2" stroke-linecap="square"/>
<text x="893.34" y="17.9" font-size="13.57" font-family='"Liberation Sans", sans-serif' textLength="13.43" lengthAdjust="spacingAndGlyphs">m</text>
<text x="907.05" y="17.54" font-size="13.35" font-family='"Liberation Sans", sans-serif' textLength="7.69" lengthAdjust="spacingAndGlyphs">=</text>
<text x="918.34" y="18" font-size="13.83" font-family='"Liberation Sans", sans-serif' textLength="7.32" lengthAdjust="spacingAndGlyphs">2</text>
<text x="927.01" y="17.86" font-size="13.63" font-family='"Liberation Sans", sans-serif' textLength="6.98" lengthAdjust="spacingAndGlyphs">0</text>
<text x="935.51" y="17.86" font-size="13.63" font-family='"Liberation Sans", sans-serif' textLength="6.98" lengthAdjust="spacingAndGlyphs">0</text>
<text x="944.01" y="17.86" font-size="13.63" font-family='"Liberation Sans", sans-serif' textLength="6.98" lengthAdjust="spacingAndGlyphs">0</text>
<line x1="978.6" y1="13.4" x2="1006.6" y2="13.4" stroke="#bc2223" stroke-width="2" stroke-linecap="square"/>
<text x="1014.94" y="17.9" font-size="13.57" font-family='"Liberation Sans", sans-serif' textLength="13.43" lengthAdjust="spacingAndGlyphs">m</text>
<text x="1028.65" y="17.54" font-size="13.35" font-family='"Liberation Sans", sans-serif' textLength="7.69" lengthAdjust="spacingAndGlyphs">=</text>
<text x="1040.09" y="17.86" font-size="13.83" font-family='"Liberation Sans", sans-serif' textLength="7.04" lengthAdjust="spacingAndGlyphs">5</text>
<text x="1048.61" y="17.86" font-size="13.63" font-family='"Liberation Sans", sans-serif' textLength="6.98" lengthAdjust="spacingAndGlyphs">0</text>
<text x="1057.11" y="17.86" font-size="13.63" font-family='"Liberation Sans", sans-serif' textLength="6.98" lengthAdjust="spacingAndGlyphs">0</text>
<text x="1065.61" y="17.86" font-size="13.63" font-family='"Liberation Sans", sans-serif' textLength="6.98" lengthAdjust="spacingAndGlyphs">0</text>
<line x1="1100.7" y1="13.4" x2="1128.7" y2="13.4" stroke="#825aa6" stroke-width="2" stroke-linecap="square"/>
<text x="1137.64" y="17.9" font-size="13.57" font-family='"Liberation Sans", sans-serif' textLength="13.43" lengthAdjust="spacingAndGlyphs">m</text>
<text x="1151.35" y="17.54" font-size="13.35" font-family='"Liberation Sans", sans-serif' textLength="7.69" lengthAdjust="spacingAndGlyphs">=</text>
<text x="1162.69" y="17.9" font-size="13.88" font-family='"Liberation Sans", sans-serif' textLength="5.94" lengthAdjust="spacingAndGlyphs">1</text>
<text x="1171.31" y="17.86" font-size="13.63" font-family='"Liberation Sans", sans-serif' textLength="6.98" lengthAdjust="spacingAndGlyphs">0</text>
<text x="1179.81" y="17.86" font-size="13.63" font-family='"Liberation Sans", sans-serif' textLength="6.98" lengthAdjust="spacingAndGlyphs">0</text>
<text x="1188.31" y="17.86" font-size="13.63" font-family='"Liberation Sans", sans-serif' textLength="6.98" lengthAdjust="spacingAndGlyphs">0</text>
<text x="1196.81" y="17.86" font-size="13.63" font-family='"Liberation Sans", sans-serif' textLength="6.98" lengthAdjust="spacingAndGlyphs">0</text>
<line x1="1231.3" y1="13.4" x2="1259.3" y2="13.4" stroke="#7b4b42" stroke-width="2" stroke-linecap="square"/>
<text x="1268.64" y="17.9" font-size="13.57" font-family='"Liberation Sans", sans-serif' textLength="13.43" lengthAdjust="spacingAndGlyphs">m</text>
<text x="1282.35" y="17.54" font-size="13.35" font-family='"Liberation Sans", sans-serif' textLength="7.69" lengthAdjust="spacingAndGlyphs">=</text>
<text x="1293.69" y="17.9" font-size="13.88" font-family='"Liberation Sans", sans-serif' textLength="5.94" lengthAdjust="spacingAndGlyphs">1</text>
<text x="1302.31" y="17.86" font-size="13.63" font-family='"Liberation Sans", sans-serif' textLength="6.98" lengthAdjust="spacingAndGlyphs">0</text>
<text x="1310.81" y="17.86" font-size="13.63" font-family='"Liberation Sans", sans-serif' textLength="6.98" lengthAdjust="spacingAndGlyphs">0</text>
<text x="1319.31" y="17.86" font-size="13.63" font-family='"Liberation Sans", sans-serif' textLength="6.98" lengthAdjust="spacingAndGlyphs">0</text>
<text x="1327.81" y="17.86" font-size="13.63" font-family='"Liberation Sans", sans-serif' textLength="6.98" lengthAdjust="spacingAndGlyphs">0</text>
<text x="1336.31" y="17.86" font-size="13.63" font-family='"Liberation Sans", sans-serif' textLength="6.98" lengthAdjust="spacingAndGlyphs">0</text>
<text x="302.28" y="325.7" font-size="35.5" font-family='"Liberation Serif", serif' textLength="40.94" lengthAdjust="spacingAndGlyphs">(a)</text>
<text x="987.33" y="325.7" font-size="35.5" font-family='"Liberation Serif", serif' textLength="41.64" lengthAdjust="spacingAndGlyphs">(b)</text></svg>
</body></html>
